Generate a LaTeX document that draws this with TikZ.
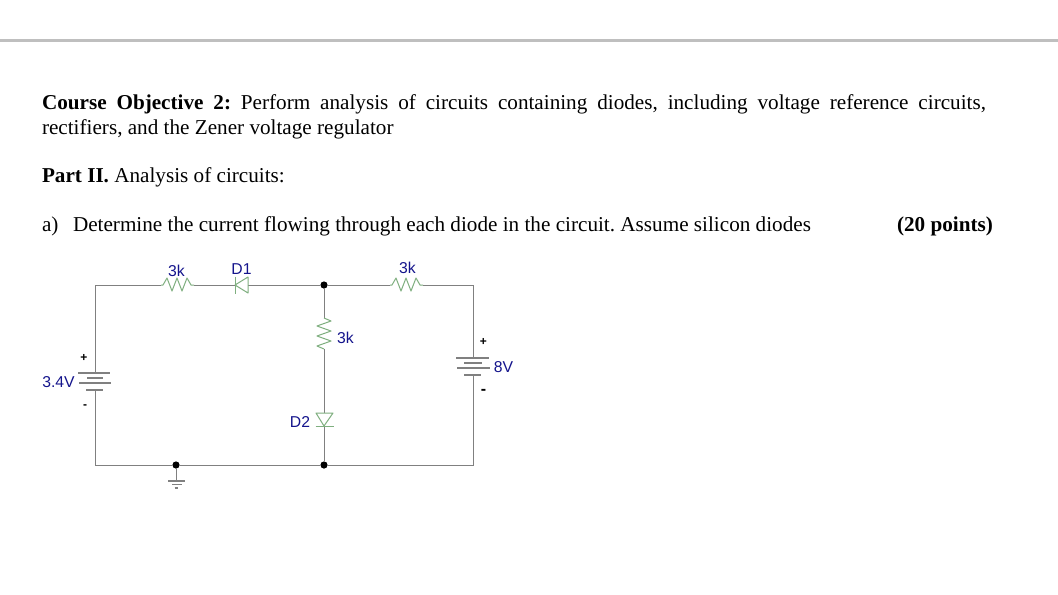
\documentclass[tikz,border=0pt]{standalone}
\usepackage{fontspec}
\setmainfont{Liberation Serif}
\newfontfamily\lblfont{Liberation Sans}
\definecolor{wirec}{HTML}{808080}
\definecolor{partc}{HTML}{7FAF7F}
\definecolor{lblc}{HTML}{14148C}
\frenchspacing
\begin{document}
\begin{tikzpicture}[x=0.75pt,y=-0.75pt,
  wire/.style={draw=wirec,line width=0.7pt},
  part/.style={draw=partc,line width=0.75pt,line join=round},
  plate/.style={draw=wirec,line width=0.8pt},
  body/.style={inner sep=0pt,outer sep=0pt,anchor=base west,font=\fontsize{15.88pt}{18.75pt}\selectfont},
  lbl/.style={inner sep=0pt,outer sep=0pt,text=lblc,font=\lblfont\fontsize{11.8pt}{14pt}\selectfont},
  pol/.style={inner sep=0pt,outer sep=0pt,font=\lblfont\bfseries\fontsize{9pt}{10pt}\selectfont},
  dot/.style={circle,fill=black,inner sep=0pt,minimum size=5.4pt}]
\useasboundingbox (0,0) rectangle (1058,594);
\fill[white] (0,0) rectangle (1058,594);
\draw[draw=black!25,line width=2.2pt] (0,40.5) -- (1058,40.5);
% text
\node[body] (t1) at (42,109) {\hbox to 708pt{\textbf{Course\hfill Objective\hfill 2:}\hfill Perform\hfill analysis\hfill of\hfill circuits\hfill containing\hfill diodes,\hfill including\hfill voltage\hfill reference\hfill circuits,}};
\node[body] (t2) at (42,134) {rectifiers, and the Zener voltage regulator};
\node[body] (t3) at (42,182) {\textbf{Part II.} Analysis of circuits:};
\node[body] (t4) at (42,231) {a)};
\node[body] (t5) at (73,231) {Determine the current flowing through each diode in the circuit. Assume silicon diodes};
\node[body] (t6) at (897,231) {\textbf{(20 points)}};
% junctions and corners
\coordinate (tl) at (95,285);
\coordinate (bl) at (95,465);
\coordinate (tr) at (473,285);
\coordinate (br) at (473,465);
\node[dot] (jt) at (324,285) {};
\node[dot] (jb) at (324,465) {};
\node[dot] (jg) at (176,465) {};
% terminals
\coordinate (r1a) at (161,285); \coordinate (r1b) at (194,285);
\coordinate (d1a) at (235,285); \coordinate (d1b) at (248,285);
\coordinate (r3a) at (390,285); \coordinate (r3b) at (423,285);
\coordinate (r2a) at (324,318); \coordinate (r2b) at (324,349);
\coordinate (d2a) at (324,413); \coordinate (d2b) at (324,426);
\coordinate (b1a) at (95,373); \coordinate (b1b) at (95,390);
\coordinate (b2a) at (473,358); \coordinate (b2b) at (473,375);
\coordinate (ga) at (176,481);
% wires
\draw[wire] (b1a) -- (tl) -- (r1a);
\draw[wire] (r1b) -- (d1a);
\draw[wire] (d1b) -- (jt);
\draw[wire] (jt) -- (r3a);
\draw[wire] (r3b) -- (tr) -- (b2a);
\draw[wire] (jt) -- (r2a);
\draw[wire] (r2b) -- (d2a);
\draw[wire] (d2b) -- (jb);
\draw[wire] (b2b) -- (br) -- (jb);
\draw[wire] (jb) -- (jg);
\draw[wire] (jg) -- (bl) -- (b1b);
\draw[wire] (jg) -- (ga);
% resistors
\draw[part] (r1a) -- ++(2,0) -- ++(4,-7) -- ++(5,13) -- ++(5,-13) -- ++(5,13) -- ++(5,-13) -- ++(4,7) -- (r1b);
\draw[part] (r3a) -- ++(2,0) -- ++(4,-7) -- ++(5,13) -- ++(5,-13) -- ++(5,13) -- ++(5,-13) -- ++(4,7) -- (r3b);
\draw[part] (r2a) -- ++(7,3) -- ++(-14,5) -- ++(14,5) -- ++(-14,5) -- ++(14,5) -- ++(-14,5) -- ++(7,3);
% diodes
\draw[part] (d1b) -- ++(0,-8) -- (d1a) -- (248,293) -- cycle;
\draw[part] (235,276.5) -- (235,293.5);
\draw[part] (316,413) -- (333,413) -- (d2b) -- cycle;
\draw[part] (315.5,426) -- (333.5,426);
% batteries
\draw[plate] (78,373) -- (110,373);
\draw[plate] (87,378) -- (103,378);
\draw[plate] (79,383) -- (111,383);
\draw[plate] (86,390) -- (103,390);
\draw[plate] (456,358) -- (489,358);
\draw[plate] (464,363) -- (482,363);
\draw[plate] (457,368) -- (490,368);
\draw[plate] (464,375) -- (481,375);
% ground
\draw[plate] (168,481) -- (185,481);
\draw[plate] (172,484.5) -- (182,484.5);
\draw[plate] (174.5,488) -- (178,488);
% labels
\node[lbl] (l1) at (176.5,271) {3k};
\node[lbl] (l2) at (241.5,269) {D1};
\node[lbl] (l3) at (407.5,268) {3k};
\node[lbl] (l4) at (345.5,337.5) {3k};
\node[lbl] (l5) at (300,422) {D2};
\node[lbl] (l6) at (58.5,382.5) {3.4V};
\node[lbl] (l7) at (503.5,367) {8V};
\node[pol] (p1) at (84,357.5) {+};
\node[pol] (p2) at (85,407) {-};
\node[pol] (p3) at (483.5,342) {+};
\node[pol,font=\lblfont\bfseries\fontsize{12pt}{12pt}\selectfont] (p4) at (483.5,391.5) {-};
\end{tikzpicture}
\end{document}
